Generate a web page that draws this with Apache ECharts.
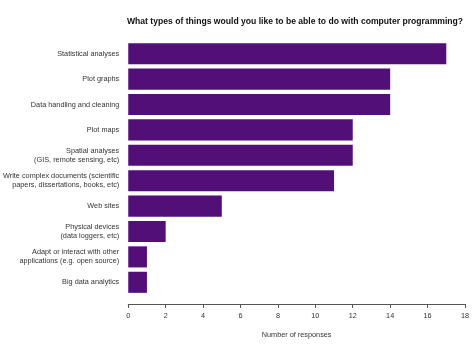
<!DOCTYPE html>
<html>
<head>
<meta charset="utf-8">
<script src="https://cdn.jsdelivr.net/npm/echarts@6/dist/echarts.min.js"></script>
<style>html,body{margin:0;padding:0;background:#fff}#c{width:474px;height:355px}</style>
</head>
<body>
<div id="c"></div>
<script>
const categories = [
  "Statistical analyses",
  "Plot graphs",
  "Data handling and cleaning",
  "Plot maps",
  "Spatial analyses\n(GIS, remote sensing, etc)",
  "Write complex documents (scientific\npapers, dissertations, books, etc)",
  "Web sites",
  "Physical devices\n(data loggers, etc)",
  "Adapt or interact with other\napplications (e.g. open source)",
  "Big data analytics"
];
const responses = [17, 14, 14, 12, 12, 11, 5, 2, 1, 1];
const titleText = "What types of things would you like to be able to do with computer programming?";
const xAxisName = "Number of responses";

const chart = echarts.init(document.getElementById('c'), null, {renderer: 'canvas'});
const font = "'Liberation Sans', Arial, sans-serif";
chart.setOption({
  animation: false,
  backgroundColor: '#fff',
  title: {
    text: titleText,
    left: 295,
    top: 12,
    textAlign: 'center',
    textStyle: {fontFamily: font, fontSize: 8.6, fontWeight: 'bold', color: '#111'}
  },
  grid: {left: 128, right: 9, top: 41, bottom: 60, containLabel: false},
  xAxis: {
    type: 'value',
    min: 0, max: 18, interval: 2,
    offset: 9,
    name: xAxisName,
    nameLocation: 'middle',
    nameGap: 27,
    nameTextStyle: {fontFamily: font, fontSize: 7.3, color: '#333'},
    axisLine: {show: true, lineStyle: {color: '#555', width: 1}},
    axisTick: {show: true, length: 4, lineStyle: {color: '#555'}},
    axisLabel: {fontFamily: font, fontSize: 7.3, color: '#333', margin: 8},
    splitLine: {show: false}
  },
  yAxis: {
    type: 'category',
    data: categories,
    inverse: true,
    axisLine: {show: false},
    axisTick: {show: false},
    axisLabel: {fontFamily: font, fontSize: 7.3, color: '#333', margin: 9, align: 'right', lineHeight: 9}
  },
  series: [{
    type: 'bar',
    data: responses,
    barCategoryGap: '17%',
    itemStyle: {color: '#520f78'}
  }]
});
chart.setOption({title: {left: 290}});
</script>
</body>
</html>
